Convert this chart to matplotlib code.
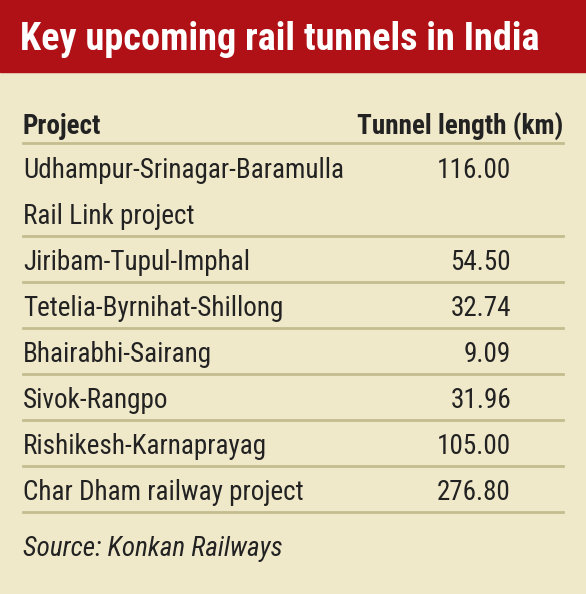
import matplotlib.pyplot as plt

projects = ["Udhampur-Srinagar-Baramulla\nRail Link project", "Jiribam-Tupul-Imphal",
            "Tetelia-Byrnihat-Shillong", "Bhairabhi-Sairang", "Sivok-Rangpo",
            "Rishikesh-Karnaprayag", "Char Dham railway project"]
lengths = [116.00, 54.50, 32.74, 9.09, 31.96, 105.00, 276.80]

W, H = 586, 594
fam = ["Liberation Sans Narrow", "Roboto Condensed", "DejaVu Sans"]
fig = plt.figure(figsize=(W / 100, H / 100), dpi=100)
fig.patch.set_facecolor("#efe8c9")
ax = fig.add_axes([0, 0, 1, 1])
ax.set_xlim(0, W)
ax.set_ylim(H, 0)
ax.axis("off")

ax.axhspan(0, 72, color="#b01117")
ax.text(20, 39, "Key upcoming rail tunnels in India", color="white", fontsize=27.5,
        family=fam, va="center", ha="left", weight="bold")

line_col = "#c5bd90"
txt = "#222222"
fs = 19.5
ax.text(23, 127, "Project", fontsize=fs, family=fam, color=txt, va="center", weight="bold")
ax.text(563, 127, "Tunnel length (km)", fontsize=fs, family=fam, color=txt, va="center",
        ha="right", weight="bold")
ax.plot([23, 563], [143, 143], color=line_col, lw=2)

y = 143
for p, v in zip(projects, lengths):
    nlines = p.count("\n") + 1
    h = 46 * nlines + (1 if nlines > 1 else 0)
    for k, part in enumerate(p.split("\n")):
        ax.text(23, y + 27 + 46 * k, part, fontsize=fs, family=fam, color=txt, va="center")
    ax.text(511, y + 27, f"{v:.2f}", fontsize=fs, family=fam, color=txt, va="center", ha="right")
    y += h
    ax.plot([23, 563], [y, y], color=line_col, lw=2)

ax.text(23, 549, "Source: Konkan Railways", fontsize=fs, family=fam, color=txt,
        va="center", style="italic")

fig.savefig("out.png", dpi=100, facecolor=fig.get_facecolor())
